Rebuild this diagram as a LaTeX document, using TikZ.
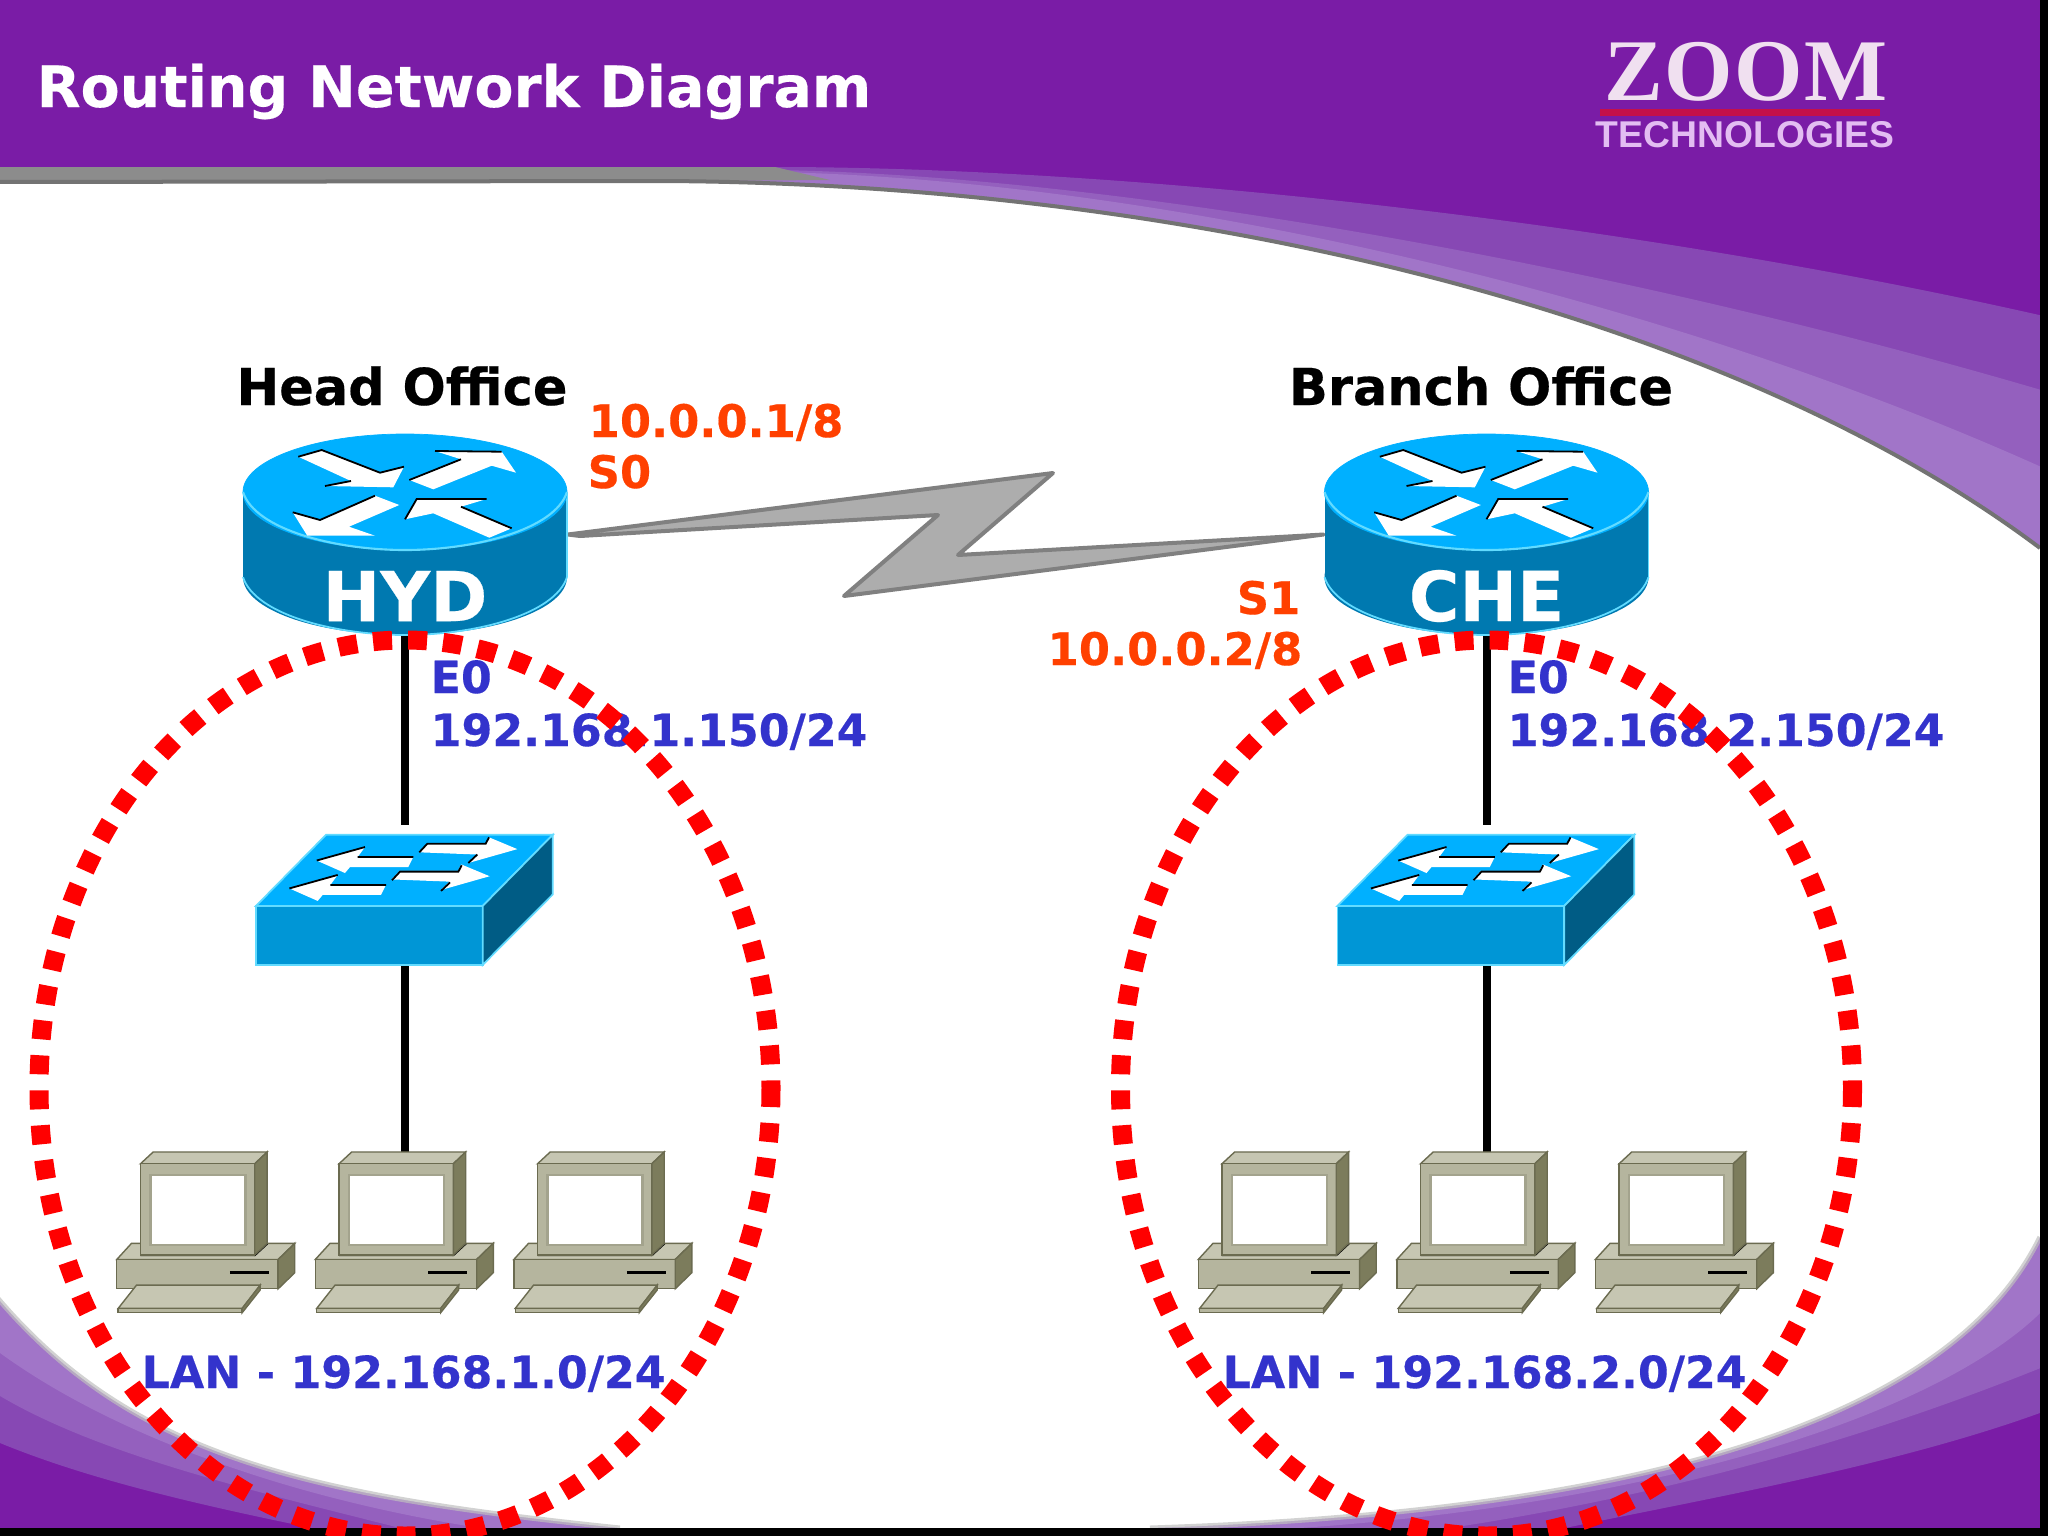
\documentclass[tikz,border=0pt]{standalone}
\usepackage{fontspec}
\setmainfont[BoldFeatures={FakeBold=0.35}]{DejaVu Sans}
\newfontfamily\logoserif[LetterSpace=2]{Liberation Serif}
\newfontfamily\logosans{Liberation Sans}
\usetikzlibrary{positioning}
\definecolor{headpurple}{HTML}{7A1CA6}
\definecolor{bandone}{HTML}{8748B4}
\definecolor{bandtwo}{HTML}{9460BE}
\definecolor{bandthree}{HTML}{A175C8}
\definecolor{ciscotop}{HTML}{00B0FF}
\definecolor{ciscoside}{HTML}{0079B0}
\definecolor{ciscofront}{HTML}{0096D6}
\definecolor{ciscodark}{HTML}{005C85}
\definecolor{ciscorim}{HTML}{62DBFF}
\definecolor{pcfront}{HTML}{B5B59E}
\definecolor{pctop}{HTML}{C6C6B2}
\definecolor{pcside}{HTML}{7C7C5C}
\definecolor{pcedge}{HTML}{6B6B50}
\definecolor{serialred}{HTML}{FF4000}
\definecolor{lanblue}{HTML}{3333CC}
\definecolor{logored}{HTML}{C4104A}
\definecolor{logolilac}{HTML}{E3BDF2}
\tikzset{
    routerbox/.style={inner sep=0pt, minimum width=3.24cm, minimum height=2.01cm},
    switchbox/.style={inner sep=0pt, minimum width=3cm, minimum height=1.4cm},
    pcbox/.style={inner sep=0pt, minimum width=1.78cm, minimum height=1.61cm},
    devname/.style={inner sep=0pt, text=white, font=\fontsize{19.6}{21}\selectfont\bfseries},
    sitename/.style={inner sep=0pt, anchor=base, text=black, font=\fontsize{14.5}{17}\selectfont\bfseries},
    serialtext/.style={inner sep=0pt, text=serialred, font=\fontsize{12.75}{15}\selectfont\bfseries},
    lantext/.style={inner sep=0pt, anchor=base west, text=lanblue, font=\fontsize{12.6}{15}\selectfont\bfseries},
    wire/.style={line width=0.08cm, draw=black},
    wan/.style={line width=0.04cm, draw=black!50, fill=black!32, line join=round},
    lanring/.style={draw=red, line width=0.19cm, dash pattern=on 0.19cm off 0.16cm},
    flowarrow/.style={fill=white},
    flowedge/.style={draw=black, line width=0.018cm},
    pcpart/.style={draw=pcedge, line width=0.4pt},
    router/.pic={
        \fill [ciscoside] (0,42.5) circle [x radius=162, y radius=58];
        \draw [ciscorim, line width=0.5pt] (-162,42.5) .. controls (-150,80) and (-70,100.5) .. (0,100.5) .. controls (70,100.5) and (150,80) .. (162,42.5);
        \fill [ciscoside] (-162,-42.5) rectangle (162,42.5);
        \draw [ciscorim, line width=0.5pt] (162,-42.5) -- (162,42.5);
        \draw [ciscotop, line width=0.2pt, fill=ciscotop] (0,-42.5) circle [x radius=162, y radius=58];
        \draw [ciscorim, line width=0.6pt] (-162,-42.5) .. controls (-150,-5) and (-70,15.5) .. (0,15.5) .. controls (70,15.5) and (150,-5) .. (162,-42.5);
        \begin{scope}[shift={(0,-42.5)}]
            \fill [flowarrow] (-106.7,-35.3) -- (-83.3,-42) -- (-25,-19.3) -- (-1,-25.3) -- (-11.7,-4.7) -- (-80,-6) -- (-54,-11) -- cycle;
            \fill [flowarrow] (4.3,-12) -- (56,-32.7) -- (30,-41) -- (96.7,-40.3) -- (111,-19.3) -- (86.7,-26.3) -- (28.3,-2.7) -- cycle;
            \fill [flowarrow] (-5.7,13) -- (-30,3.7) -- (-85,28) -- (-112.3,20.3) -- (-97.7,43.7) -- (-30,43.7) -- (-56,34.7) -- cycle;
            \fill [flowarrow] (0,27.3) -- (11.7,7) -- (81.7,7) -- (56,14.7) -- (106.7,36.3) -- (84.3,45.7) -- (28.3,21.3) -- cycle;
            \draw [flowedge] (-106.7,-35.3) -- (-83.3,-42) -- (-25,-19.3) -- (-1,-25.3);
            \draw [flowedge] (-80,-6) -- (-54,-11);
            \draw [flowedge] (4.3,-12) -- (56,-32.7);
            \draw [flowedge] (30,-41) -- (96.7,-40.3);
            \draw [flowedge] (-30,3.7) -- (-85,28) -- (-112.3,20.3);
            \draw [flowedge] (0,27.3) -- (11.7,7) -- (81.7,7);
            \draw [flowedge] (56,14.7) -- (106.7,36.3);
        \end{scope}
    },
    switchpic/.pic={
        \draw [ciscorim, line width=0.5pt, fill=ciscotop] (-149,4.3) -- (-79,-66.8) -- (147.7,-66.8) -- (77.7,4.3) -- cycle;
        \draw [ciscorim, line width=0.5pt, fill=ciscofront] (-149,4.3) rectangle (77.7,63.2);
        \draw [ciscorim, line width=0.5pt, fill=ciscodark] (77.7,4.3) -- (147.7,-66.8) -- (147.7,-7.1) -- (77.7,63.2) -- cycle;
        \fill [flowarrow] (-88.3,-41.1) -- (-40,-54.6) -- (-47.3,-44.6) -- (8.3,-44.6) -- (3.3,-34.6) -- (-55,-34.6) -- (-60,-28.6) -- cycle;
        \fill [flowarrow] (14.3,-49.3) -- (22.3,-57.9) -- (80.7,-57.9) -- (84,-64.3) -- (112.3,-52.5) -- (63.3,-38.6) -- (72.3,-47.1) -- cycle;
        \fill [flowarrow, shift={(-27.3,27.9)}] (-88.3,-41.1) -- (-40,-54.6) -- (-47.3,-44.6) -- (8.3,-44.6) -- (3.3,-34.6) -- (-55,-34.6) -- (-60,-28.6) -- cycle;
        \fill [flowarrow, shift={(-27.7,27.1)}] (14.3,-49.3) -- (22.3,-57.9) -- (80.7,-57.9) -- (84,-64.3) -- (112.3,-52.5) -- (63.3,-38.6) -- (72.3,-47.1) -- cycle;
        \draw [flowedge] (-88.3,-41.1) -- (-40,-54.6) (-47.3,-44.6) -- (8.3,-44.6);
        \draw [flowedge] (14.3,-49.3) -- (22.3,-57.9) -- (80.7,-57.9) -- (84,-64.3) (63.3,-38.6) -- (72.3,-47.1);
        \begin{scope}[shift={(-27.3,27.9)}]
            \draw [flowedge] (-88.3,-41.1) -- (-40,-54.6) (-47.3,-44.6) -- (8.3,-44.6);
            \draw [flowedge] (14.3,-49.3) -- (22.3,-57.9) -- (80.7,-57.9) -- (84,-64.3) (63.3,-38.6) -- (72.3,-47.1);
        \end{scope}
    },
    pcpic/.pic={
        \draw [pcpart, fill=pctop] (-89.7,107.5) -- (-75,91.4) -- (88.3,91.4) -- (71.7,107.5) -- cycle;
        \draw [pcpart, fill=pcfront] (-89.7,107.5) rectangle (71.7,136.8);
        \draw [pcpart, fill=pcside] (71.7,107.5) -- (88.3,91.4) -- (88.3,120.7) -- (71.7,136.8) -- cycle;
        \draw [line width=0.03cm] (23.3,120.7) -- (62.3,120.7);
        \draw [line width=0.025cm] (-66,102.9) -- (48.3,102.9) -- (60.7,91.4);
        \draw [pcpart, fill=pctop] (-66,11.8) -- (-53.3,0) -- (60.7,0) -- (48.3,11.8) -- cycle;
        \draw [pcpart, fill=pcfront] (-66,11.8) rectangle (48.3,102.9);
        \draw [pcpart, fill=pcside] (48.3,11.8) -- (60.7,0) -- (60.7,91.4) -- (48.3,102.9) -- cycle;
        \draw [pcpart, line width=0.6pt, draw=pcside!70, fill=white] (-56,23.2) rectangle (39,92.9);
        \draw [pcpart, fill=pctop] (-88.3,156.4) -- (-70,133.2) -- (53.7,133.2) -- (35.7,156.4) -- cycle;
        \draw [pcpart, fill=pcfront] (-88.3,156.4) rectangle (35.7,160.7);
        \draw [pcpart, fill=pcside] (35.7,156.4) -- (53.7,133.2) -- (53.7,138) -- (35.7,160.7) -- cycle;
    }
}
\begin{document}
\begin{tikzpicture}[x=0.01cm, y=-0.01cm]
    \useasboundingbox (0,0) rectangle (2048,1536);
    \clip (0,0) rectangle (2048,1536);

    \fill [headpurple] (0,0) rectangle (2048,1536);
    \fill [bandone] (0,167) -- (775,167) .. controls (1100,167) and (1600,215) .. (2048,317)
        -- (2048,1410) .. controls (1900,1465) and (1700,1500) .. (1565,1528)
        -- (312,1528) .. controls (200,1505) and (90,1480) .. (0,1443) -- cycle;
    \fill [bandtwo] (0,170) -- (775,170) .. controls (1100,175) and (1600,260) .. (2048,392)
        -- (2048,1365) .. controls (1900,1425) and (1700,1490) .. (1450,1528)
        -- (400,1528) .. controls (250,1490) and (100,1455) .. (0,1396) -- cycle;
    \fill [bandthree] (0,172) -- (775,172) .. controls (1150,180) and (1650,290) .. (2048,470)
        -- (2048,1305) .. controls (1960,1400) and (1700,1500) .. (1300,1528)
        -- (480,1528) .. controls (300,1500) and (120,1440) .. (0,1353) -- cycle;
    \fill [black!45] (0,167) -- (775,167) -- (830,180) -- (0,186) -- cycle;
    \fill [white] (-5,182) -- (650,181) .. controls (1150,181) and (1710,300) .. (2040,548)
        -- (2040,1237) .. controls (1960,1400) and (1700,1510) .. (1150,1528)
        -- (620,1528) .. controls (300,1495) and (130,1455) .. (-5,1295) -- cycle;
    \draw [black!55, line width=0.04cm] (-5,182) -- (650,181) .. controls (1150,181) and (1710,300) .. (2040,548);
    \draw [black!25, opacity=0.7, line width=0.05cm] (2040,1237) .. controls (1960,1400) and (1700,1510) .. (1150,1528);
    \draw [black!25, opacity=0.7, line width=0.05cm] (620,1528) .. controls (300,1495) and (130,1455) .. (-5,1295);
    \fill [black] (2040,0) rectangle (2048,1536);
    \fill [black] (0,1528) rectangle (2048,1536);

    \node (title) [inner sep=0pt, anchor=base west, text=white, font=\fontsize{16.2}{19}\selectfont\bfseries] at (36,107) {Routing Network Diagram};
    \node (zoomword) [inner sep=0pt, anchor=base, text=white!88!violet, font=\fontsize{25}{28}\selectfont\logoserif\bfseries] at (1746,100) {ZOOM};
    \fill [logored] (1600,109) rectangle (1880,116);
    \node (zoomtech) [inner sep=0pt, anchor=base, text=logolilac, font=\fontsize{10.6}{12}\selectfont\logosans\bfseries] at (1745,147) {TECHNOLOGIES};

    \node (hyd) [routerbox] at (405,534.5) {};
    \node (hydsw) [switchbox, below=1.89cm of hyd] {};
    \node (hydpc2) [pcbox, below=1.855cm of hydsw] {};
    \node (hydpc1) [pcbox, left=0.19cm of hydpc2] {};
    \node (hydpc3) [pcbox, right=0.19cm of hydpc2] {};

    \node (che) [routerbox] at (1486.5,534.5) {};
    \node (chesw) [switchbox, below=1.89cm of che] {};
    \node (chepc2) [pcbox, below=1.855cm of chesw] {};
    \node (chepc1) [pcbox, left=0.19cm of chepc2] {};
    \node (chepc3) [pcbox, right=0.19cm of chepc2] {};

    \draw [wire] (hyd.south) -- (hydsw.north);
    \draw [wire] (hydsw.south) -- (hydpc2.north);
    \draw [wire] (che.south) -- (chesw.north);
    \draw [wire] (chesw.south) -- (chepc2.north);
    \draw [wan] (hyd.east) -- (1053,473) -- (958,555) -- (che.west) -- (844,596) -- (938,515) -- (580,536) -- cycle;

    \pic at (hyd) {router};
    \pic [yshift=-0.06cm] at (hydsw) {switchpic};
    \pic at (hydpc1.north) {pcpic};
    \pic at (hydpc2.north) {pcpic};
    \pic at (hydpc3.north) {pcpic};
    \pic at (che) {router};
    \pic [yshift=-0.06cm] at (chesw) {switchpic};
    \pic at (chepc1.north) {pcpic};
    \pic at (chepc2.north) {pcpic};
    \pic at (chepc3.north) {pcpic};

    \node (hydname) [devname] at (405,596) {HYD};
    \node (chename) [devname] at (1486.5,596) {CHE};
    \node (hydsite) [sitename] at (402,405) {Head Office};
    \node (chesite) [sitename] at (1481,405) {Branch Office};
    \node (hydserialip) [serialtext, anchor=base west] at (588,437) {10.0.0.1/8};
    \node (hydserial) [serialtext, anchor=base west] at (587,488) {S0};
    \node (cheserial) [serialtext, anchor=base east] at (1301,614) {S1};
    \node (cheserialip) [serialtext, anchor=base east] at (1303,665) {10.0.0.2/8};
    \node (hydeth) [lantext] at (430,693) {E0};
    \node (hydethip) [lantext] at (430,746) {192.168.1.150/24};
    \node (cheeth) [lantext] at (1507,693) {E0};
    \node (cheethip) [lantext] at (1507,746) {192.168.2.150/24};
    \node (hydlan) [lantext] at (141,1388) {LAN - 192.168.1.0/24};
    \node (chelan) [lantext] at (1222,1388) {LAN - 192.168.2.0/24};

    \draw [lanring] (405,1088) circle [x radius=366, y radius=448];
    \draw [lanring] (1486.5,1088) circle [x radius=366, y radius=448];
\end{tikzpicture}
\end{document}
